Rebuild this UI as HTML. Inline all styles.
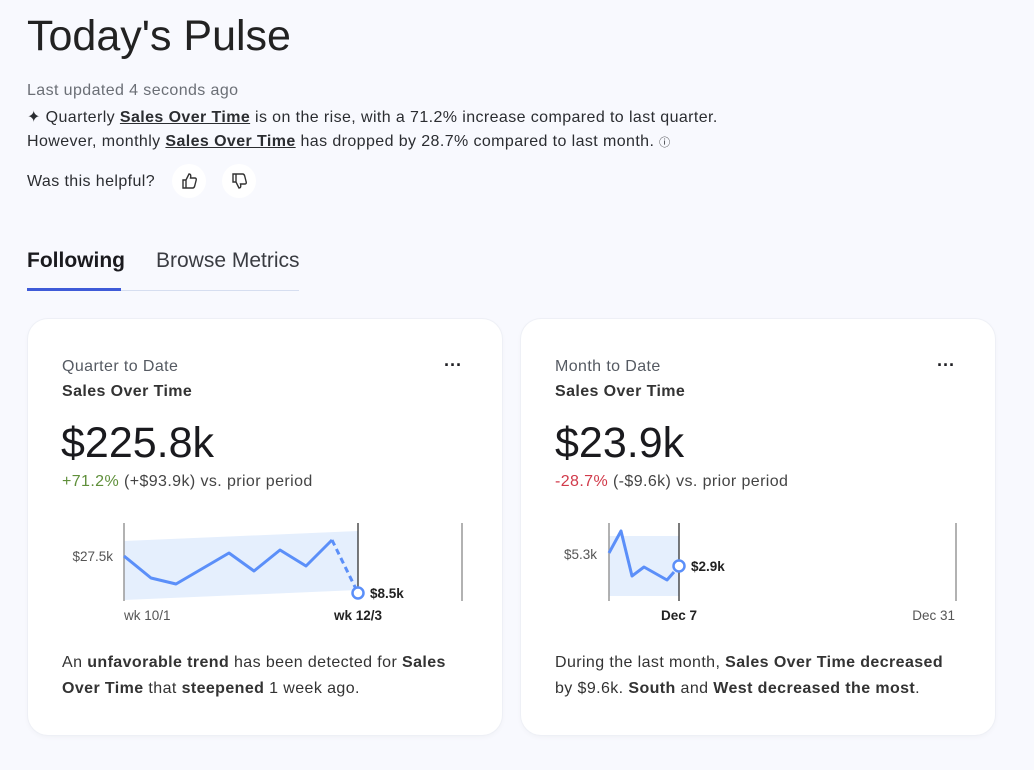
<!DOCTYPE html>
<html><head><style>
body{margin:0;width:1034px;height:770px;background:#f8f9fe;font-family:"Liberation Sans",sans-serif;color:#1f1f23;position:relative;overflow:hidden}
.a{position:absolute;white-space:nowrap}
.g{color:#5f6368}
.card{position:absolute;top:319px;width:474px;height:416px;background:#fff;border-radius:20px;box-shadow:0 0 0 1px #eef0f6,0 2px 6px rgba(0,0,0,0.04)}
.s16{font-size:16px;letter-spacing:0.4px}
b{font-weight:bold}
u{text-decoration:underline;font-weight:bold}
.btn{position:absolute;width:34px;height:34px;border-radius:50%;background:#fff}
</style></head><body>
<div class="a" style="left:27px;top:12px;font-size:43px;color:#222">Today's Pulse</div>
<div class="a g s16" style="left:27px;top:82px;color:#6b6f76">Last updated 4 seconds ago</div>
<div class="a s16" style="left:27px;top:107px;color:#2b2d31">✦ Quarterly <u>Sales Over Time</u> is on the rise, with a 71.2% increase compared to last quarter.</div>
<div class="a s16" style="left:27px;top:133px;color:#2b2d31">However, monthly <u>Sales Over Time</u> has dropped by 28.7% compared to last month. <span style="font-size:11px">ⓘ</span></div>
<div class="a s16" style="left:27px;top:173px;color:#2b2d31">Was this helpful?</div>
<div class="btn" style="left:172px;top:164px"><svg width="34" height="34"><path d="M11 16h3v8h-3z M14 16l3-6c2 0 2 2 1.5 4H23c1 0 1.5 1 1.2 2l-1.5 6c-.3 1-1 2-2 2H14" fill="none" stroke="#333" stroke-width="1.4"/></svg></div>
<div class="btn" style="left:222px;top:164px"><svg width="34" height="34"><path d="M11 18h3v-8h-3z M14 18l3 6c2 0 2-2 1.5-4H23c1 0 1.5-1 1.2-2l-1.5-6c-.3-1-1-2-2-2H14" fill="none" stroke="#333" stroke-width="1.4"/></svg></div>
<div class="a" style="left:27px;top:249px;font-size:21px;font-weight:bold;color:#1a1a1e">Following</div>
<div class="a" style="left:156px;top:249px;font-size:21px;color:#3a3c42">Browse Metrics</div>
<div class="a" style="left:27px;top:290px;width:272px;height:1px;background:#d6def0"></div>
<div class="a" style="left:27px;top:288px;width:94px;height:3px;background:#3f5bd8"></div>

<div class="card" style="left:28px"></div>
<div class="card" style="left:521px"></div>

<div class="a s16" style="left:62px;top:358px;color:#555a62">Quarter to Date</div>
<div class="a s16" style="left:62px;top:383px;font-weight:bold;color:#333">Sales Over Time</div>
<div class="a" style="left:444px;top:355px;font-size:18px;font-weight:bold;letter-spacing:0px">···</div>
<div class="a" style="left:61px;top:419px;font-size:43px;color:#1a1a1e">$225.8k</div>
<div class="a s16" style="left:62px;top:473px;color:#444"><span style="color:#5f8f3a">+71.2%</span> (+$93.9k) vs. prior period</div>
<div class="a s16" style="left:62px;top:654px;color:#333">An <b>unfavorable trend</b> has been detected for <b>Sales</b></div>
<div class="a s16" style="left:62px;top:680px;color:#333"><b>Over Time</b> that <b>steepened</b> 1 week ago.</div>

<div class="a s16" style="left:555px;top:358px;color:#555a62">Month to Date</div>
<div class="a s16" style="left:555px;top:383px;font-weight:bold;color:#333">Sales Over Time</div>
<div class="a" style="left:937px;top:355px;font-size:18px;font-weight:bold;letter-spacing:0px">···</div>
<div class="a" style="left:555px;top:419px;font-size:43px;color:#1a1a1e">$23.9k</div>
<div class="a s16" style="left:555px;top:473px;color:#444"><span style="color:#d13a4a">-28.7%</span> (-$9.6k) vs. prior period</div>
<div class="a s16" style="left:555px;top:654px;color:#333">During the last month, <b>Sales Over Time decreased</b></div>
<div class="a s16" style="left:555px;top:680px;color:#333">by $9.6k. <b>South</b> and <b>West decreased the most</b>.</div>

<svg class="a" style="left:0;top:0" width="1034" height="770" font-family="Liberation Sans,sans-serif" font-size="13.5">
<polygon points="124,541 358,531 358,590 124,600" fill="#e5effd"/>
<line x1="124" y1="523" x2="124" y2="601" stroke="#999" stroke-width="1.5"/>
<line x1="358" y1="523" x2="358" y2="590" stroke="#222" stroke-width="1.2"/>
<line x1="462" y1="523" x2="462" y2="601" stroke="#999" stroke-width="1.5"/>
<polyline points="124,556 151,578 176,584 229,553 254,571 280,550 306,566 332,540" fill="none" stroke="#5b8ff9" stroke-width="3" stroke-linejoin="round"/>
<line x1="332" y1="540" x2="356" y2="589" stroke="#5b8ff9" stroke-width="3" stroke-dasharray="6,4"/>
<circle cx="358" cy="593" r="5.5" fill="#fff" stroke="#5b8ff9" stroke-width="2.5"/>
<text x="113" y="561" text-anchor="end" fill="#555">$27.5k</text>
<text x="370" y="598" font-weight="bold" fill="#222">$8.5k</text>
<text x="124" y="620" fill="#555">wk 10/1</text>
<text x="358" y="620" text-anchor="middle" font-weight="bold" fill="#222">wk 12/3</text>

<rect x="609" y="536" width="70" height="60" fill="#e5effd"/>
<line x1="609" y1="523" x2="609" y2="601" stroke="#999" stroke-width="1.5"/>
<line x1="679" y1="523" x2="679" y2="601" stroke="#222" stroke-width="1.2"/>
<line x1="956" y1="523" x2="956" y2="601" stroke="#999" stroke-width="1.5"/>
<polyline points="609,553 621,531 632,576 644,567 667,580 674,572" fill="none" stroke="#5b8ff9" stroke-width="3" stroke-linejoin="round"/>
<circle cx="679" cy="566" r="5.5" fill="#fff" stroke="#5b8ff9" stroke-width="2.5"/>
<text x="597" y="559" text-anchor="end" fill="#555">$5.3k</text>
<text x="691" y="571" font-weight="bold" fill="#222">$2.9k</text>
<text x="679" y="620" text-anchor="middle" font-weight="bold" fill="#222">Dec 7</text>
<text x="955" y="620" text-anchor="end" fill="#555">Dec 31</text>
</svg>
</body></html>
